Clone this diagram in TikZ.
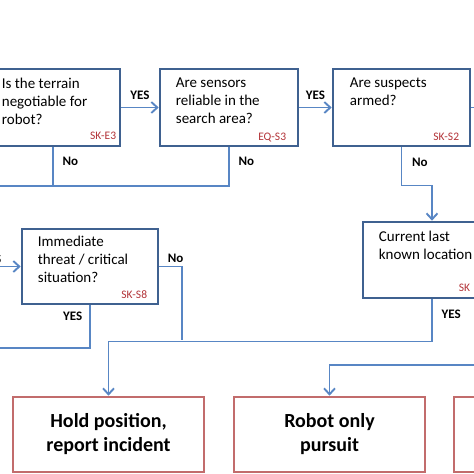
\documentclass[tikz,border=0pt]{standalone}
\usepackage{fontspec}
\setmainfont{Carlito}
\usetikzlibrary{arrows.meta}

\definecolor{boxblue}{RGB}{63,97,144}
\definecolor{lineblue}{RGB}{88,134,196}
\definecolor{codered}{RGB}{178,50,55}
\definecolor{endred}{RGB}{194,108,108}

\begin{document}
\begin{tikzpicture}[x=1pt, y=-1pt,
    qbox/.style = {draw=boxblue, line width=2.6pt, inner sep=0pt},
    qtext/.style = {anchor=north west, inner sep=0pt, align=left, font=\fontsize{15}{18}\selectfont},
    code/.style = {anchor=base east, inner sep=0pt, text=codered, font=\fontsize{11.5}{13}\selectfont},
    endbox/.style = {draw=endred, line width=2.6pt, inner sep=0pt, minimum width=191pt, minimum height=75pt, align=center, font=\fontsize{20}{24}\selectfont\bfseries},
    flow/.style = {draw=lineblue, line width=1.3pt},
    arr/.style = {flow, -{Straight Barb[length=6pt, width=11pt, line width=1.9pt]}},
    ans/.style = {inner sep=0pt, font=\fontsize{13}{15}\selectfont\bfseries}]
        \useasboundingbox (0,0) rectangle (474,474);
        
        \node[qbox, minimum width=134pt, minimum height=77pt] (terrain) at (53,107.5) {};
        \node[qtext] (terrain-q) at ([xshift=17pt, yshift=-10pt]terrain.north west) {Is the terrain\\negotiable for\\robot?};
        \node[code] (terrain-c) at ([xshift=-5pt, yshift=8pt]terrain.south east) {SK-E3};
        
        \node[qbox, minimum width=138pt, minimum height=77pt] (sensors) at (229,107.5) {};
        \node[qtext] (sensors-q) at ([xshift=17pt, yshift=-10pt]sensors.north west) {Are sensors\\reliable in the\\search area?};
        \node[code] (sensors-c) at ([xshift=-13pt, yshift=7pt]sensors.south east) {EQ-S3};
        
        \node[qbox, minimum width=137pt, minimum height=77pt] (armed) at (401.5,107.5) {};
        \node[qtext] (armed-q) at ([xshift=18pt, yshift=-10pt]armed.north west) {Are suspects\\armed?};
        \node[code] (armed-c) at ([xshift=-12pt, yshift=6.5pt]armed.south east) {SK-S2};
        
        \node[qbox, minimum width=138pt, minimum height=76pt] (location) at (432,260) {};
        \node[qtext] (location-q) at ([xshift=17pt, yshift=-10pt]location.north west) {Current last\\known location};
        \node[code, anchor=base west] (location-c) at ([xshift=97pt, yshift=8pt]location.south west) {SK};
        
        \node[qbox, minimum width=136pt, minimum height=75pt] (threat) at (90,266.5) {};
        \node[qtext] (threat-q) at ([xshift=17pt, yshift=-8pt]threat.north west) {Immediate\\threat / critical\\situation?};
        \node[code] (threat-c) at ([xshift=-12pt, yshift=7pt]threat.south east) {SK-S8};
        
        \node[endbox] (hold) at (108.5,434.5) {Hold position,\\report incident};
        \node[endbox] (pursuit) at (329.5,434.5) {Robot only\\pursuit};
        \node[endbox] (third) at (549.5,434.5) {};
        
        \coordinate (left-no) at (-10,186);
        \coordinate (left-in) at (-10,266.5);
        \coordinate (left-yes) at (-10,348);
        \coordinate (right-out) at (484,107.5);
        \coordinate (right-in) at (484,365);
        \coordinate (join) at (182,340);
        
        \draw[arr] (terrain.east) -- node[ans, above=7pt]{YES} (sensors.west);
        \draw[arr] (sensors.east) -- node[ans, above=7pt]{YES} (armed.west);
        \draw[flow] (armed.east) -- (right-out);
        
        \draw[flow] (terrain.south) -- node[ans, right=9pt, pos=0.375]{No} (terrain.south |- left-no) -- (left-no);
        \draw[flow] (sensors.south) -- node[ans, right=9pt, pos=0.375]{No} (sensors.south |- left-no) -- (terrain.south |- left-no);
        \draw[arr] (armed.south) -- node[ans, right=10pt, pos=0.39]{No} ++(0,38) -| (location.north);
        
        \draw[arr] (left-in) -- (threat.west);
        \node[ans, anchor=east] (in-yes) at (1.5,259) {YES};
        \draw[flow] (threat.east) -- node[ans, above=3pt, pos=0.72]{No} (threat.east -| join) -- (join);
        \draw[flow] (threat.south) -- node[ans, left=7pt, pos=0.25]{YES} (threat.south |- left-yes) -- (left-yes);
        
        \draw[arr] (location.south) -- node[ans, right=9pt, pos=0.36]{YES} ++(0,42) -| (hold.north);
        \draw[arr] (right-in) -| (pursuit.north);
    \end{tikzpicture}
\end{document}
